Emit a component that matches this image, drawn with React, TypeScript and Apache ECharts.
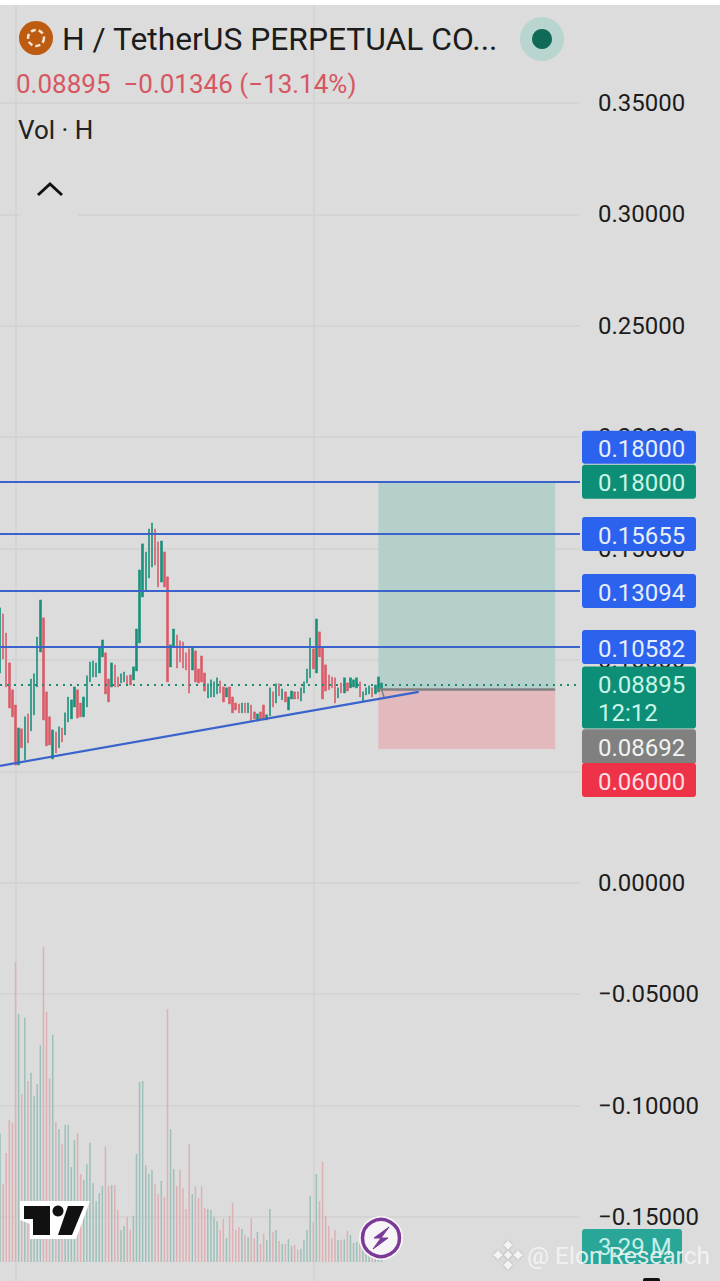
import React, { useEffect, useRef } from "react";
import * as echarts from "echarts";

// ---- data ----
const highs = [
  0.1234, 0.1207, 0.1121, 0.0987, 0.0866, 0.0798, 0.0695, 0.0691, 0.0745, 0.0758,
  0.0915, 0.0938, 0.1103, 0.1269, 0.1189, 0.0857, 0.0745, 0.0686, 0.0677, 0.07,
  0.0695, 0.0763, 0.0834, 0.0821, 0.0879, 0.0866, 0.0807, 0.0834, 0.0929, 0.0991,
  0.0996, 0.0987, 0.1054, 0.109, 0.1032, 0.0915, 0.0987, 0.0978, 0.0924, 0.0938,
  0.0946, 0.0929, 0.0933, 0.0969, 0.1139, 0.1404, 0.1521, 0.1485, 0.1588, 0.1615,
  0.1588, 0.153, 0.1534, 0.1485, 0.1373, 0.1068, 0.1139, 0.1112, 0.1086, 0.1081,
  0.1032, 0.105, 0.1054, 0.1041, 0.096, 0.1018, 0.0942, 0.0893, 0.0911, 0.0902,
  0.092, 0.0906, 0.0879, 0.0875, 0.0879, 0.0834, 0.0807, 0.0803, 0.0807, 0.0807,
  0.0807, 0.0798, 0.0767, 0.0758, 0.0767, 0.0798, 0.0754, 0.0875, 0.0857, 0.0893,
  0.0893, 0.087, 0.0857, 0.0834, 0.0861, 0.0857, 0.0857, 0.0875, 0.0902, 0.096,
  0.1099, 0.105, 0.1184, 0.1126, 0.1059, 0.0978, 0.0933, 0.0924, 0.092, 0.0875,
  0.0897, 0.092, 0.0897, 0.092, 0.0911, 0.092, 0.0902, 0.0857, 0.0875, 0.0884,
  0.0875, 0.0888, 0.0924, 0.0897,
];
const lows = [
  0.0942, 0.1005, 0.0879, 0.0785, 0.0745, 0.0529, 0.0529, 0.0606, 0.0552, 0.0628,
  0.0682, 0.0754, 0.0879, 0.1036, 0.0731, 0.0615, 0.0619, 0.0556, 0.0583, 0.0606,
  0.0632, 0.0664, 0.0722, 0.0736, 0.0789, 0.074, 0.0745, 0.0745, 0.0789, 0.0902,
  0.0924, 0.0924, 0.0942, 0.1014, 0.0848, 0.0812, 0.0879, 0.0879, 0.0879, 0.0897,
  0.0902, 0.0893, 0.0888, 0.0911, 0.0951, 0.1077, 0.1283, 0.1314, 0.1368, 0.1417,
  0.1426, 0.1328, 0.135, 0.1328, 0.0902, 0.0969, 0.1059, 0.0964, 0.0991, 0.0964,
  0.0955, 0.0852, 0.0955, 0.0902, 0.0897, 0.0902, 0.0861, 0.083, 0.0834, 0.0834,
  0.0848, 0.0852, 0.0812, 0.0834, 0.0803, 0.0763, 0.0776, 0.0763, 0.0763, 0.0763,
  0.0763, 0.0727, 0.0736, 0.0727, 0.0731, 0.0731, 0.0731, 0.0749, 0.0789, 0.0807,
  0.0839, 0.0821, 0.0812, 0.0776, 0.0825, 0.0825, 0.0825, 0.0816, 0.0852, 0.0897,
  0.092, 0.096, 0.0942, 0.1014, 0.0825, 0.0861, 0.0866, 0.0875, 0.0807, 0.083,
  0.0852, 0.0852, 0.0861, 0.0875, 0.0879, 0.0875, 0.0834, 0.0816, 0.0843, 0.0848,
  0.0834, 0.0848, 0.0857, 0.087,
];
// 1 = green candle, 0 = red candle
const rising = [
  1, 0, 0, 0, 0, 0, 1, 0, 1, 0, 1, 1, 1, 1, 0, 0, 0, 1, 0, 1,
  0, 1, 1, 1, 1, 0, 0, 1, 1, 1, 1, 1, 1, 1, 0, 0, 1, 0, 0, 1,
  1, 0, 0, 1, 1, 1, 1, 1, 1, 1, 0, 0, 1, 0, 0, 1, 1, 0, 0, 0,
  0, 0, 1, 0, 0, 0, 0, 1, 1, 1, 1, 0, 0, 1, 0, 0, 0, 0, 1, 0,
  1, 0, 0, 1, 0, 0, 1, 1, 0, 1, 0, 1, 0, 1, 1, 0, 0, 1, 1, 1,
  1, 0, 1, 0, 0, 0, 0, 0, 0, 1, 0, 1, 0, 1, 1, 1, 0, 1, 1, 1,
  0, 1, 1, 1,
];
const volumesM = [
  26.5, 16.0, 22.4, 29.2, 28.6, 61.7, 51.0, 34.5, 50.2, 37.2, 38.9, 34.1, 36.6, 44.6, 64.8, 51.4,
  37.8, 46.7, 28.8, 27.3, 24.3, 28.2, 28.2, 19.5, 25.1, 26.5, 18.1, 16.9, 20.1, 24.5, 16.2, 12.5,
  14.2, 15.6, 23.8, 15.6, 15.8, 15.8, 10.7, 6.6, 7.4, 9.3, 6.6, 9.5, 22.2, 37.0, 37.2, 19.9,
  18.1, 18.9, 16.0, 14.0, 16.7, 13.4, 52.0, 27.3, 19.1, 15.6, 18.9, 15.2, 10.9, 24.3, 14.0, 15.6,
  13.2, 15.6, 11.1, 10.9, 10.7, 9.3, 8.4, 6.6, 8.8, 4.9, 9.5, 12.1, 6.6, 7.2, 6.8, 5.6,
  5.1, 9.0, 4.9, 6.2, 3.7, 5.8, 4.5, 10.9, 6.2, 6.6, 4.3, 3.7, 3.7, 4.7, 3.3, 3.5,
  2.5, 2.7, 4.5, 6.6, 13.6, 8.2, 18.1, 12.5, 20.6, 9.5, 7.4, 4.9, 6.6, 4.5, 4.5, 4.7,
  6.4, 5.6, 3.9, 4.1, 3.7, 3.3, 2.9, 3.7, 3.3, 3.3, 3.1, 3.29,
];
const levelPrices = [0.18, 0.15655, 0.13094, 0.10582];
const lastPrice = 0.08895;
const entryPrice = 0.08692;
const targetPrice = 0.18;
const stopPrice = 0.06;
const trendPrices = [0.0525, 0.0857];
const hookLow = 0.0825;
const tagPrices = [0.18, 0.18, 0.15655, 0.13094, 0.10582, 0.08895, 0.08692, 0.06];
const tagLabels = ["0.18000", "0.18000", "0.15655", "0.13094", "0.10582", "0.08895", "0.08692", "0.06000"];
const countdownLabel = "12:12";
const volumeTagValue = 3.29;
const volumeTagLabel = "3.29 M";
const titleText = "H / TetherUS PERPETUAL CO...";
const quoteText = "0.08895  \u22120.01346 (\u221213.14%)";
const volLegend = "Vol \u00b7 H";
const watermark = "@ Elon Research";

// ---- layout and style ----
const SLOTS = 188;
const BG = "#dcdcdc";
const GRID = "#d2d2d2";
const BLUE_LINE = "#3a63cc";
const UP = "#17907b";
const DOWN = "#da5b67";
const tagStyles = [
  { fill: "#2b62ee", text: "#e6eefc", top: -51, h: 33 },
  { fill: "#0c8f76", text: "#c9f5e6", top: -17, h: 34 },
  { fill: "#2b62ee", text: "#e6eefc", top: -17, h: 34 },
  { fill: "#2b62ee", text: "#e6eefc", top: -17, h: 34 },
  { fill: "#2b62ee", text: "#e6eefc", top: -17, h: 34 },
  { fill: "#0c8f76", text: "#c9f5e6", top: -18, h: 62 },
  { fill: "#808080", text: "#f2f2f2", top: 40, h: 35 },
  { fill: "#ee3349", text: "#fbdfe2", top: 14, h: 34 },
];
const FONT = "Roboto";

const categories = Array.from({ length: SLOTS }, (_, i) => String(i));
const candleData = highs.map((h, i) =>
  rising[i] ? [lows[i], h, lows[i], h] : [h, lows[i], lows[i], h]
);
const volumeData = volumesM.map((v, i) => ({
  value: v,
  itemStyle: { color: rising[i] ? "#9cc0ba" : "#deb0b4" },
}));

const T = (text: string, x: number, y: number, size: number, fill: string, extra: any = {}) => ({
  type: "text",
  silent: true,
  style: { text, x, y, fill, fontSize: size, fontFamily: FONT, verticalAlign: "middle", ...extra },
});
const diamond = (cx: number, cy: number, r: number, fill: string) => ({
  type: "polygon",
  silent: true,
  shape: { points: [[cx, cy - r], [cx + r, cy], [cx, cy + r], [cx - r, cy]] },
  style: { fill, shadowBlur: 2, shadowColor: "rgba(0,0,0,0.35)" },
});

const graphics: any[] = [
  { type: "rect", silent: true, shape: { x: 0, y: 0, width: 720, height: 5 }, style: { fill: "#fff" } },
  { type: "rect", silent: true, shape: { x: 20, y: 160, width: 58, height: 58 }, style: { fill: BG } },
  { type: "circle", silent: true, shape: { cx: 36, cy: 38, r: 17 }, style: { fill: "#bd5c10" } },
  { type: "circle", silent: true, shape: { cx: 36, cy: 38, r: 8 }, style: { fill: "none", stroke: "#f6e6d8", lineWidth: 2.5, lineDash: [5, 3] } },
  T(titleText, 62, 39, 31.8, "#1c1c1c"),
  { type: "circle", silent: true, shape: { cx: 542, cy: 39, r: 22 }, style: { fill: "#b9d5d0" } },
  { type: "circle", silent: true, shape: { cx: 542, cy: 39, r: 10 }, style: { fill: "#0f6b57" } },
  T(quoteText, 16, 84, 26, "#d65762"),
  T(volLegend, 18, 130, 26, "#222"),
  { type: "polyline", silent: true, shape: { points: [[38, 195], [50, 184], [62, 195]] }, style: { fill: "none", stroke: "#111", lineWidth: 3 } },
  // TradingView mark
  { type: "polygon", silent: true, shape: { points: [[20, 1201], [90, 1201], [76, 1239], [30, 1239], [30, 1224], [20, 1220]] }, style: { fill: "#fff" } },
  { type: "polygon", silent: true, shape: { points: [[24, 1206], [50, 1206], [50, 1235], [33, 1235], [33, 1219], [24, 1219]] }, style: { fill: "#111" } },
  { type: "circle", silent: true, shape: { cx: 58, cy: 1211, r: 5.5 }, style: { fill: "#111" } },
  { type: "polygon", silent: true, shape: { points: [[68, 1206], [84, 1206], [72, 1235], [58, 1235]] }, style: { fill: "#111" } },
  // bolt badge
  { type: "circle", silent: true, shape: { cx: 381, cy: 1238, r: 22 }, style: { fill: "#f7f4f8" } },
  { type: "circle", silent: true, shape: { cx: 381, cy: 1238, r: 18.5 }, style: { fill: "#f7f4f8", stroke: "#7b3a96", lineWidth: 3.5 } },
  { type: "polygon", silent: true, shape: { points: [[389, 1227], [374, 1238], [381, 1238], [373, 1249], [388, 1238], [381, 1238]] }, style: { fill: "#7b3a96", stroke: "#7b3a96", lineWidth: 1 } },
  // watermark
  diamond(508, 1245, 4.5, "#f4f4f4"),
  diamond(498, 1255, 4.5, "#f4f4f4"),
  diamond(518, 1255, 4.5, "#f4f4f4"),
  diamond(508, 1265, 4.5, "#f4f4f4"),
  diamond(508, 1255, 4, "#f4f4f4"),
  T(watermark, 527, 1255, 24.5, "rgba(245,245,245,0.9)", { shadowBlur: 2, shadowColor: "rgba(0,0,0,0.55)" }),
  // bit of UI cut by the bottom edge
  { type: "rect", silent: true, shape: { x: 643, y: 1278, width: 17, height: 6, r: 2 }, style: { fill: "#111" } },
];

const option: any = {
  animation: false,
  backgroundColor: BG,
  textStyle: { fontFamily: FONT },
  grid: [
    { left: 0, width: 580, top: 103, height: 1114 },
    { left: 0, width: 580, top: 5, height: 1276 },
  ],
  xAxis: [
    {
      type: "category", gridIndex: 0, data: categories, boundaryGap: false,
      axisLine: { show: false }, axisTick: { show: false }, axisLabel: { show: false }, splitLine: { show: false },
    },
    {
      type: "category", gridIndex: 1, data: categories, boundaryGap: false,
      axisLine: { show: false }, axisTick: { show: false }, axisLabel: { show: false },
      splitLine: { show: true, interval: (i: number) => i === 5 || i === 101, lineStyle: { color: GRID, width: 1.5 } },
    },
  ],
  yAxis: [
    {
      type: "value", gridIndex: 0, position: "right", min: -0.15, max: 0.35, interval: 0.05,
      axisLine: { show: false }, axisTick: { show: false },
      splitLine: { show: true, lineStyle: { color: GRID, width: 1.5 } },
      axisLabel: {
        margin: 18, fontSize: 24, fontFamily: FONT, color: "#1c1c1c", padding: [4, 0, 0, 0],
        formatter: (v: number) => v.toFixed(5).replace("-", "\u2212"),
      },
    },
    {
      type: "value", gridIndex: 1, min: -3.906, max: 258.43, show: false, splitLine: { show: false },
    },
  ],
  series: [
    {
      type: "bar", name: "Vol", xAxisIndex: 1, yAxisIndex: 1, data: volumeData, barWidth: 1.5, z: 1,
    },
    {
      type: "candlestick", name: "H", xAxisIndex: 0, yAxisIndex: 0, data: candleData, barWidth: 2, z: 3,
      itemStyle: { color: UP, color0: DOWN, borderColor: UP, borderColor0: DOWN, borderWidth: 0.6 },
      markArea: {
        silent: true, z: 1,
        data: [
          [{ xAxis: 122, yAxis: targetPrice, itemStyle: { color: "#b5d0cb" } }, { xAxis: 179, yAxis: entryPrice }],
          [{ xAxis: 122, yAxis: entryPrice, itemStyle: { color: "#e2b9bd" } }, { xAxis: 179, yAxis: stopPrice }],
        ],
      },
      markLine: {
        silent: true, symbol: "none", label: { show: false }, z: 6, precision: 5,
        data: [
          ...levelPrices.map((p) => ({ yAxis: p, lineStyle: { color: BLUE_LINE, width: 2.2, type: "solid" } })),
          { yAxis: lastPrice, lineStyle: { color: "#1f8a72", width: 2, type: [2, 5] } },
          [
            { coord: [122, entryPrice], lineStyle: { color: "#808080", width: 2.5, type: "solid" } },
            { coord: [179, entryPrice] },
          ],
          [
            { coord: [123, entryPrice], lineStyle: { color: "#808080", width: 1.5, type: "solid" } },
            { coord: [124, hookLow] },
          ],
          [
            { coord: [0, trendPrices[0]], lineStyle: { color: BLUE_LINE, width: 2.2, type: "solid" } },
            { coord: [135, trendPrices[1]] },
          ],
        ],
      },
    },
    {
      type: "custom", name: "tags", xAxisIndex: 0, yAxisIndex: 0, z: 20, clip: false, silent: true,
      data: tagPrices.map((p) => [0, p]),
      encode: { x: 0, y: 1 },
      renderItem: (params: any, api: any) => {
        const i = params.dataIndex;
        const y = api.coord([0, api.value(1)])[1];
        const s = tagStyles[i];
        const top = y + s.top;
        const children: any[] = [
          { type: "rect", shape: { x: 582, y: top, width: 114, height: s.h, r: 3 }, style: { fill: s.fill } },
          { type: "text", style: { text: tagLabels[i], x: 598, y: top + 18.5, fill: s.text, fontSize: 24, fontFamily: FONT, verticalAlign: "middle" } },
        ];
        if (i === 5) {
          children.push({ type: "text", style: { text: countdownLabel, x: 598, y: top + 46.5, fill: s.text, fontSize: 24, fontFamily: FONT, verticalAlign: "middle" } });
        }
        return { type: "group", children };
      },
    },
    {
      type: "custom", name: "volTag", xAxisIndex: 1, yAxisIndex: 1, z: 20, clip: false, silent: true,
      data: [[0, volumeTagValue]],
      encode: { x: 0, y: 1 },
      renderItem: (_params: any, api: any) => {
        const y = api.coord([0, api.value(1)])[1];
        return {
          type: "group",
          children: [
            { type: "rect", shape: { x: 582, y: y - 17, width: 100, height: 35, r: 3 }, style: { fill: "#2aa698" } },
            { type: "text", style: { text: volumeTagLabel, x: 598, y: y + 1.5, fill: "#c4efe7", fontSize: 24, fontFamily: FONT, verticalAlign: "middle" } },
          ],
        };
      },
    },
  ],
  graphic: { elements: graphics.map((g) => ({ ...g, z: 100 })) },
};

export default function App() {
  const ref = useRef<HTMLDivElement>(null);
  useEffect(() => {
    document.body.style.margin = "0";
    document.body.style.background = BG;
    const chart = echarts.init(ref.current!, undefined, { renderer: "svg" });
    chart.setOption(option);
    return () => chart.dispose();
  }, []);
  return <div ref={ref} style={{ width: 720, height: 1281 }} />;
}
